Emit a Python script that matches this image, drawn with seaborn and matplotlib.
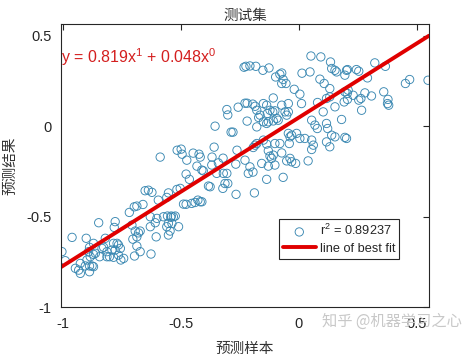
import matplotlib
matplotlib.use("Agg")
import matplotlib.pyplot as plt
import seaborn as sns
import numpy as np

# 测试集: predicted sample (x) vs predicted result (y)
sample_x = [
    -0.233, -0.225, -0.306, -0.302, -0.258, -0.229, -0.220, -0.220, -0.356, -0.288,
    -0.280, -0.589, -0.517, -0.500, -0.496, -0.449, -0.424, -0.419, -0.360, -0.369,
    -0.322, -0.263, -0.229,
    0.051, 0.093, 0.134, -0.208, -0.183, -0.153, -0.127, -0.099, -0.081, -0.073,
    -0.067, 0.013, 0.047, 0.139, 0.153, 0.160, 0.202, 0.206, 0.244, 0.254,
    0.322, 0.367, 0.089, 0.107, 0.131, 0.195, 0.291, 0.452, 0.470, 0.548,
    -0.073, -0.055, -0.020, 0.004, -0.109, -0.196, -0.186, -0.151, -0.137, -0.179,
    -0.165, -0.171, -0.134, -0.123, -0.111, -0.102, -0.094, -0.088, -0.109, -0.130,
    -0.059, -0.045, -0.052, -0.073, -0.045, 0.011, 0.079, 0.117, 0.131, 0.153,
    0.195, 0.205, 0.209, 0.192, 0.206, 0.230, 0.254, 0.263, 0.280, 0.308,
    0.266, 0.360, 0.378, 0.376, 0.381, 0.054, 0.068, 0.078, 0.103, 0.117,
    0.122, 0.181, 0.139, 0.153, 0.195, 0.202, -0.179, -0.151, -0.137, -0.045,
    -0.031, -0.038, -0.010, 0.004, 0.025, 0.054, 0.061, 0.054, 0.117, 0.131,
    -0.186, -0.179, -0.194, -0.137, -0.102, -0.081, -0.041, -0.151, -0.130, -0.123,
    -0.109, -0.116, -0.073, -0.038,
    -0.208, -0.158, -0.130, -0.102, -0.052, -0.031, -0.014, 0.039, -0.195, -0.137,
    -0.067, -0.189,
    -0.476, -0.433, -0.412, -0.406, -0.370, -0.342, -0.349, -0.321, -0.306, -0.314,
    -0.302, -0.323, -0.267, -0.215, -0.268, -0.479, -0.465, -0.384, -0.377, -0.653,
    -0.639, -0.624, -0.554, -0.518, -0.504, -0.561, -0.597, -0.490, -0.479, -0.455,
    -0.441, -0.429, -0.419, -0.412, -0.720, -0.699, -0.688, -0.662, -0.631, -0.603,
    -0.575, -0.558, -0.542, -0.533, -0.525, -0.544, -0.539, -0.554, -0.561, -0.547,
    -0.554, -0.511, -0.631, -0.610, -0.606, -0.850, -0.780, -0.784, -0.709, -0.695,
    -0.674, -0.681, -0.688, -0.705, -0.963, -0.903, -0.872, -0.889, -0.836, -0.829,
    -0.822, -0.787, -0.772, -0.766, -0.758, -0.780, -0.688, -0.674, -0.698, -0.628,
    -1.006, -0.992, -0.928, -0.900, -0.893, -0.872, -0.864, -0.886, -0.889, -0.878,
    -0.872, -0.907, -0.935, -0.928, -0.949, -0.889, -0.846, -0.815, -0.804, -0.787,
    -0.766, -0.756, -0.744, -0.815, -0.794,
]
result_y = [
    0.326, 0.331, 0.092, 0.062, 0.105, 0.127, 0.127, 0.028, 0.000, -0.033,
    -0.033, -0.171, -0.133, -0.127, -0.155, -0.149, -0.155, -0.171, -0.116, -0.171,
    -0.177, -0.133, -0.188,
    0.388, 0.383, 0.355, 0.333, 0.331, 0.309, 0.322, 0.272, 0.287, 0.294,
    0.258, 0.293, 0.300, 0.319, 0.309, 0.300, 0.309, 0.313, 0.313, 0.304,
    0.350, 0.331, 0.260, 0.236, 0.208, 0.282, 0.267, 0.236, 0.258, 0.254,
    0.236, 0.236, 0.204, 0.177, 0.156, 0.122, 0.110, 0.125, 0.116, 0.088,
    0.061, 0.048, 0.070, 0.088, 0.079, 0.085, 0.043, 0.033, 0.029, 0.024,
    0.079, 0.079, 0.061, 0.116, 0.125, 0.125, 0.131, 0.153, 0.162, 0.107,
    0.190, 0.181, 0.199, 0.134, 0.148, 0.171, 0.144, 0.153, 0.184, 0.167,
    0.088, 0.190, 0.148, 0.125, 0.116, 0.033, 0.006, -0.013, 0.079, 0.015,
    -0.013, 0.037, -0.050, -0.059, -0.062, -0.068, -0.004, 0.024, 0.015, -0.040,
    -0.050, -0.059, -0.040, -0.068, -0.068, -0.077, -0.105, -0.129, -0.087, -0.114,
    -0.105, -0.096, -0.118, -0.099, -0.096, -0.096, -0.096, -0.077, -0.136, -0.166,
    -0.160, -0.178, -0.148, -0.178,
    -0.225, -0.206, -0.221, -0.215, -0.192, -0.197, -0.206, -0.192, -0.254, -0.294,
    -0.283, -0.369,
    -0.188, -0.221, -0.243, -0.247, -0.215, -0.203, -0.261, -0.261, -0.261, -0.317,
    -0.317, -0.344, -0.377, -0.261, -0.210, -0.265, -0.294, -0.331, -0.335, -0.357,
    -0.354, -0.366, -0.369, -0.350, -0.344, -0.394, -0.409, -0.431, -0.432, -0.427,
    -0.422, -0.409, -0.418, -0.418, -0.477, -0.446, -0.442, -0.433, -0.501, -0.510,
    -0.501, -0.497, -0.497, -0.501, -0.497, -0.504, -0.538, -0.538, -0.556, -0.580,
    -0.602, -0.556, -0.556, -0.534, -0.612, -0.534, -0.528, -0.560, -0.547, -0.580,
    -0.580, -0.590, -0.612, -0.625, -0.615, -0.620, -0.648, -0.670, -0.676, -0.670,
    -0.620, -0.648, -0.648, -0.657, -0.676, -0.685, -0.663, -0.694, -0.718, -0.707,
    -0.694, -0.744, -0.759, -0.740, -0.694, -0.709, -0.703, -0.722, -0.773, -0.773,
    -0.777, -0.773, -0.796, -0.814, -0.786, -0.805, -0.722, -0.722, -0.722, -0.725,
    -0.713, -0.740, -0.731, -0.694, -0.685,
]

fit_coef = [0.819, 0.048]
r2 = 0.89237
x_range = [-1.01, 0.552]
y_range = [-1.0, 0.565]
ticks = [-1, -0.5, 0, 0.5]
tick_labels = ["-1", "-0.5", "0", "0.5"]

sns.set_style("white")
plt.rcParams["font.family"] = ["Liberation Sans", "Noto Sans CJK SC", "DejaVu Sans"]
plt.rcParams["mathtext.fontset"] = "custom"
plt.rcParams["mathtext.rm"] = "Liberation Sans"
plt.rcParams["mathtext.it"] = "Liberation Sans"

fig = plt.figure(figsize=(4.74, 3.55), dpi=100)
ax = fig.add_axes([0.1287, 0.1352, 0.7763, 0.7972])

pt_color = "#3a88b2"
line_color = "#e00000"

sns.scatterplot(x=sample_x, y=result_y, ax=ax, marker="o", s=36,
                facecolor="none", edgecolor=pt_color, linewidth=0.65,
                label="r$^2$ = %.5f" % r2)
fit_y = [fit_coef[0] * v + fit_coef[1] for v in x_range]
sns.lineplot(x=x_range, y=fit_y, ax=ax, color=line_color, linewidth=2.8,
             label="line of best fit")

ax.set_xlim(x_range)
ax.set_ylim(y_range)
ax.set_xticks(ticks)
ax.set_xticklabels(tick_labels)
ax.set_yticks(ticks)
ax.set_yticklabels(tick_labels)
ax.tick_params(direction="in", length=4, width=0.8, top=True, right=True,
               labelsize=10.5, colors="#262626", pad=7)
for s in ax.spines.values():
    s.set_color("#262626")
    s.set_linewidth(0.8)

ax.set_title("测试集", fontsize=10.5, color="#333333", pad=3,
             family=["Noto Sans CJK SC"])
ax.set_xlabel("预测样本", fontsize=10.5, color="#333333", labelpad=8,
              family=["Noto Sans CJK SC"])
ax.set_ylabel("预测结果", fontsize=10.5, color="#333333", labelpad=6,
              family=["Noto Sans CJK SC"])

ax.text(-1.012, 0.38, "y = %.3fx$^1$ + %.3fx$^0$" % (fit_coef[0], fit_coef[1]),
        color="#d41f1f", fontsize=11.5, va="center", ha="left", clip_on=True)

leg = ax.legend(loc="upper left", bbox_to_anchor=(0.592, 0.31), fontsize=9.2,
                frameon=True, fancybox=False, framealpha=1, edgecolor="#262626",
                handlelength=2.6, handletextpad=0.3, borderpad=0.3,
                labelspacing=0.35, borderaxespad=0)
leg.get_frame().set_linewidth(0.8)

fig.text(0.975, 0.095, "知乎 @机器学习之心", ha="right", va="center",
         fontsize=11, color="#c8c8c8", family=["Noto Sans CJK SC"])

fig.savefig("out.png", dpi=100)
